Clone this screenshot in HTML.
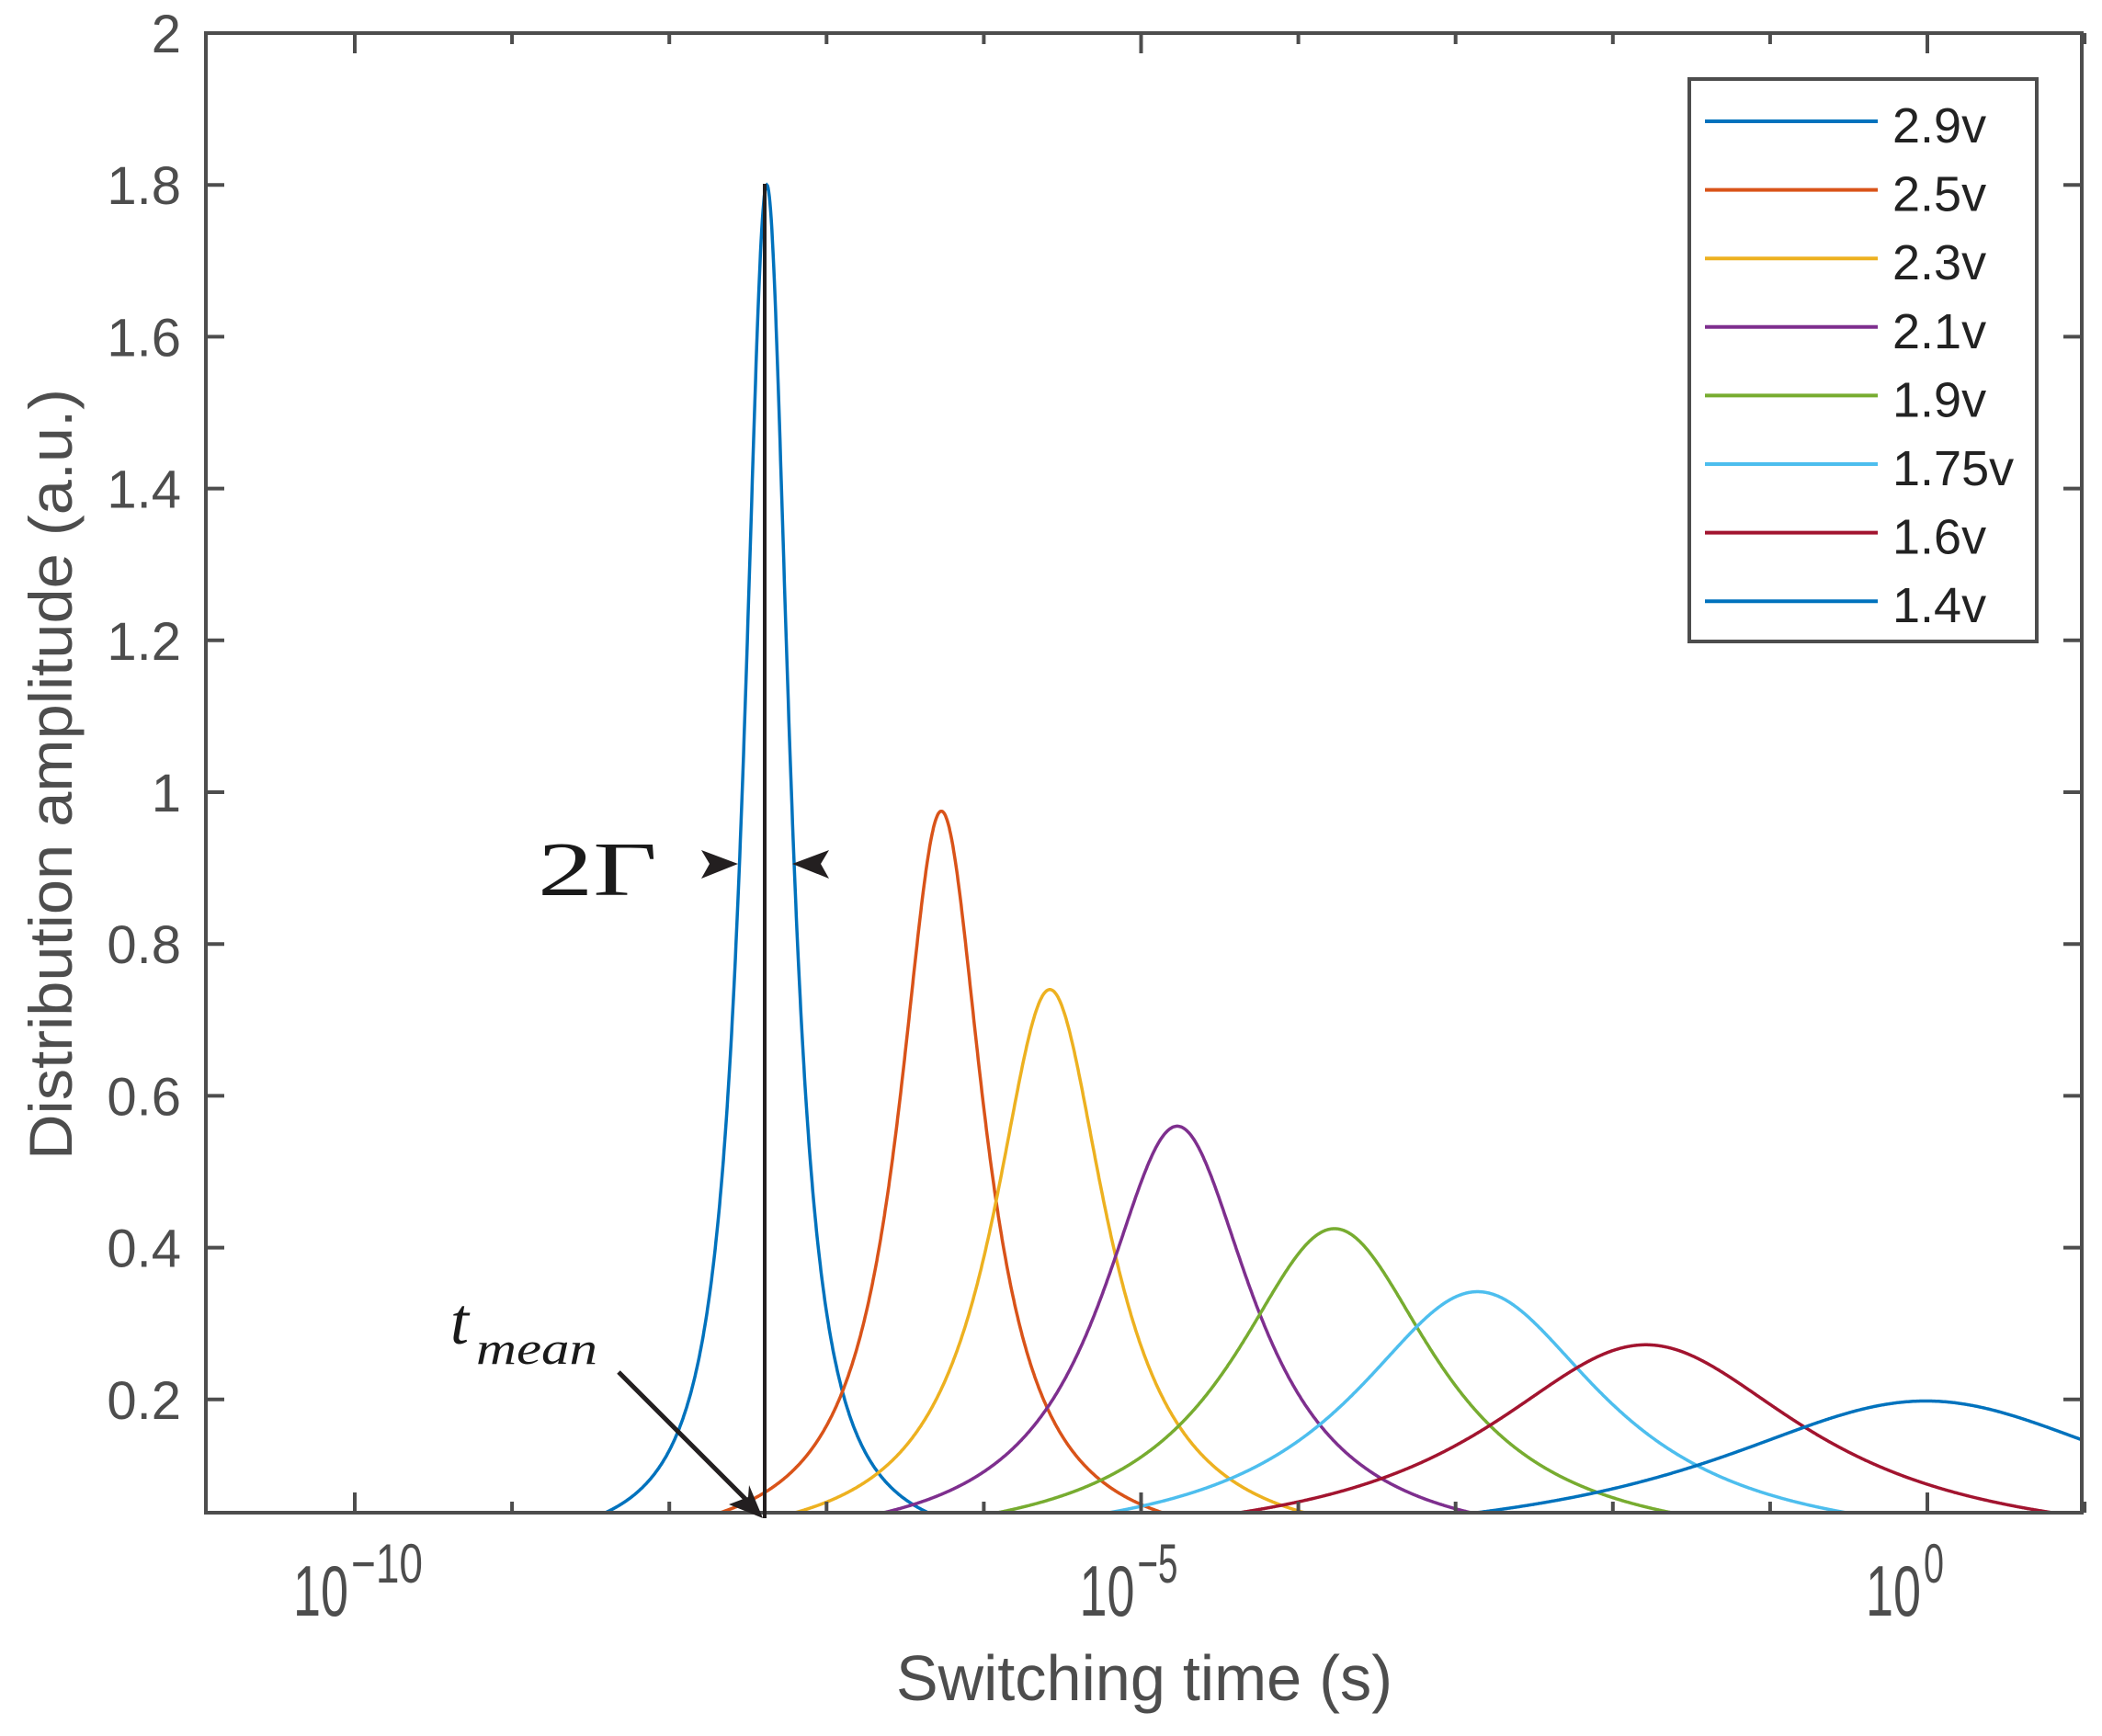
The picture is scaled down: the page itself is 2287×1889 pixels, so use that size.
<!DOCTYPE html>
<html><head><meta charset="utf-8"><style>html,body{margin:0;padding:0;background:#fff}svg{display:block}</style></head>
<body>
<svg id="s" width="2287" height="1889" viewBox="0 0 2287 1889" xmlns="http://www.w3.org/2000/svg" font-family="Liberation Sans, sans-serif">
<defs><clipPath id="c"><rect x="224" y="36" width="2041" height="1610"/></clipPath></defs>
<rect width="2287" height="1889" fill="#fff"/>
<g id="curves" clip-path="url(#c)" fill="none" stroke-width="3.5"></g>
<g id="axes" stroke="#4d4d4d" stroke-width="4" fill="none"></g>
<g id="labels" fill="#4d4d4d"></g>
<line x1="832" y1="200" x2="832" y2="1652" stroke="#231f20" stroke-width="4"/>
<line x1="673" y1="1493" x2="815" y2="1635" stroke="#231f20" stroke-width="5"/>
<polygon points="830,1652 793,1637 814,1629 815,1616" fill="#231f20"/>
<polygon points="803,940 763,925 772,940 763,956" fill="#231f20"/>
<polygon points="862,940 902,925 893,940 902,956" fill="#231f20"/>
<text x="585" y="974" font-family="Liberation Serif, serif" font-size="84" fill="#1a1a1a" textLength="130" lengthAdjust="spacingAndGlyphs">2Γ</text>
<text x="490" y="1462" font-family="Liberation Serif, serif" font-style="italic" font-size="72" fill="#1a1a1a">t</text>
<text x="518" y="1484" font-family="Liberation Serif, serif" font-style="italic" font-size="50" fill="#1a1a1a" textLength="132" lengthAdjust="spacingAndGlyphs">mean</text>
<rect x="1838" y="86" width="378" height="612" fill="#fff" stroke="#4d4d4d" stroke-width="4"/>
<g id="legend"></g>
</svg>
<script>
const NS="http://www.w3.org/2000/svg";
function el(p,t,a,txt){const e=document.createElementNS(NS,t);for(const k in a)e.setAttribute(k,a[k]);if(txt!==undefined)e.textContent=txt;p.appendChild(e);return e;}
const L=224,R=2265,T=36,B=1646;
const X=l=>386+171.1*(l+10);
const Y=v=>36+(2-v)*826;
const series=[
 ["2.9v","#0072bd",-7.38,1.80,0.175],
 ["2.5v","#d95319",-6.27,0.975,0.33],
 ["2.3v","#edb120",-5.58,0.74,0.44],
 ["2.1v","#7e2f8e",-4.77,0.56,0.59],
 ["1.9v","#77ac30",-3.77,0.425,0.79],
 ["1.75v","#4dbeee",-2.86,0.342,0.98],
 ["1.6v","#a2142f",-1.79,0.272,1.24],
 ["1.4v","#0072bd",-0.01,0.198,1.68]];
const cg=document.getElementById("curves");
series.forEach(s=>{let d="";let first=true;
 for(let l=-11.5;l<=1.6;l+=0.004){const v=s[3]/(1+Math.pow((l-s[2])/s[4],2));if(v<0.04){first=true;continue;}
  d+=(first?"M":"L")+X(l).toFixed(1)+","+Y(v).toFixed(1);first=false;}
 el(cg,"path",{d:d,stroke:s[1]});});
const ax=document.getElementById("axes");
el(ax,"rect",{x:L,y:T,width:R-L,height:B-T});
for(let k=-10;k<=1;k++){const x=X(k);const len=(k%5==0)?22:12;
 el(ax,"line",{x1:x,y1:B,x2:x,y2:B-len});el(ax,"line",{x1:x,y1:T,x2:x,y2:T+len});}
const lb=document.getElementById("labels");
for(let i=1;i<=10;i++){const v=i/5;const y=Y(v);
 el(ax,"line",{x1:L,y1:y,x2:L+20,y2:y});el(ax,"line",{x1:R,y1:y,x2:R-20,y2:y});
 const t=(v==1||v==2)?String(v):v.toFixed(1);
 el(lb,"text",{x:197,y:y+21,"font-size":58,"text-anchor":"end"},t);}
[[-10,"−10"],[-5,"−5"],[0,"0"]].forEach(([k,s])=>{const x=X(k);
 el(lb,"text",{x:x-67,y:1758,"font-size":78,textLength:60,lengthAdjust:"spacingAndGlyphs"},"10");
 el(lb,"text",{x:x-4,y:1722,"font-size":60,textLength:s.length==3?78:(s.length==2?44:22),lengthAdjust:"spacingAndGlyphs"},s);});
el(lb,"text",{x:975,y:1850,"font-size":70,textLength:540,lengthAdjust:"spacingAndGlyphs"},"Switching time (s)");
el(lb,"text",{x:0,y:0,"font-size":66,transform:"translate(78,1262) rotate(-90)",textLength:839,lengthAdjust:"spacingAndGlyphs"},"Distribution amplitude (a.u.)");
const lg=document.getElementById("legend");
series.forEach((s,i)=>{const y=132+i*74.6;
 el(lg,"line",{x1:1855,y1:y,x2:2043,y2:y,stroke:s[1],"stroke-width":4});
 el(lg,"text",{x:2059,y:y+23,"font-size":54,fill:"#222"},s[0]);});
</script>
</body></html>
